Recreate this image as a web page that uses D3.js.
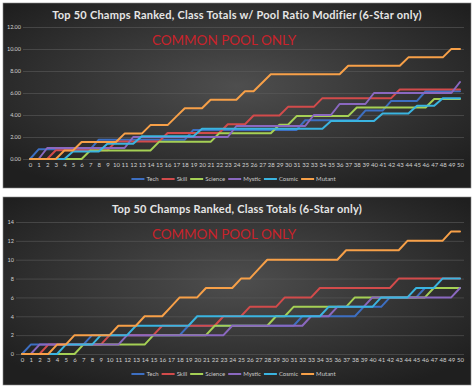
<!DOCTYPE html>
<html>
<head>
<meta charset="utf-8">
<script src="https://cdn.jsdelivr.net/npm/d3@7"></script>
<style>
body { margin: 0; background: #fff; }
svg { display: block; }
text { font-family: Lato, "Open Sans", sans-serif; }
</style>
</head>
<body>
<svg width="474" height="387"></svg>
<script>
var classNames = ["Tech", "Skill", "Science", "Mystic", "Cosmic", "Mutant"];
var classColors = ["#3d6fc2", "#d24b4b", "#a5d055", "#8a68c0", "#3ab4e0", "#f7a048"];
var ranks = d3.range(0, 51);

// class totals (plain counts) - bottom chart
var tech    = [0,1,1,1,1,1,1,1,2,2,2,2,2,2,2,2,2,2,2,3,3,3,3,3,3,3,3,3,3,3,3,3,4,4,4,4,4,4,4,5,5,5,6,6,6,6,7,7,7,7,7];
var skill   = [0,0,0,1,1,1,1,1,1,1,2,2,2,2,2,2,3,3,3,3,3,3,3,4,4,4,5,5,5,5,6,6,6,6,7,7,7,7,7,7,7,7,7,8,8,8,8,8,8,8,8];
var science = [0,0,0,0,0,0,0,1,1,1,1,1,1,1,1,2,2,2,2,2,2,2,3,3,3,3,3,3,3,4,4,5,5,5,5,5,5,5,6,6,6,6,6,6,6,6,6,7,7,7,7];
var mystic  = [0,0,1,1,1,1,1,1,1,1,1,1,2,2,2,2,2,2,2,2,2,2,2,2,3,3,3,3,3,3,3,3,3,4,4,4,5,5,5,5,6,6,6,6,6,6,6,6,6,6,7];
var cosmic  = [0,0,0,0,0,1,1,1,1,2,2,2,2,3,3,3,3,3,3,3,4,4,4,4,4,4,4,4,4,4,4,4,4,4,4,5,5,5,5,5,5,6,6,6,6,7,7,7,8,8,8];
var mutant  = [0,0,0,0,1,1,2,2,2,2,2,3,3,3,4,4,4,5,6,6,6,7,7,7,7,8,8,9,10,10,10,10,10,10,10,10,10,11,11,11,11,11,11,11,12,12,12,12,12,13,13];

// class totals w/ pool ratio modifier - top chart
var techMod    = [0,0.88,0.88,0.88,0.88,0.88,0.88,0.88,1.76,1.76,1.76,1.76,1.76,1.76,1.76,1.76,1.76,1.76,1.76,2.64,2.64,2.64,2.64,2.64,2.64,2.64,2.64,2.64,2.64,2.64,2.64,2.64,3.52,3.52,3.52,3.52,3.52,3.52,3.52,4.40,4.40,4.40,5.28,5.28,5.28,5.28,6.16,6.16,6.16,6.16,6.16];
var skillMod   = [0,0,0,0.79,0.79,0.79,0.79,0.79,0.79,0.79,1.58,1.58,1.58,1.58,1.58,1.58,2.37,2.37,2.37,2.37,2.37,2.37,2.37,3.16,3.16,3.16,3.95,3.95,3.95,3.95,4.74,4.74,4.74,4.74,5.53,5.53,5.53,5.53,5.53,5.53,5.53,5.53,5.53,6.32,6.32,6.32,6.32,6.32,6.32,6.32,6.32];
var scienceMod = [0,0,0,0,0,0,0,0.78,0.78,0.78,0.78,0.78,0.78,0.78,0.78,1.56,1.56,1.56,1.56,1.56,1.56,1.56,2.34,2.34,2.34,2.34,2.34,2.34,2.34,3.12,3.12,3.90,3.90,3.90,3.90,3.90,3.90,3.90,4.68,4.68,4.68,4.68,4.68,4.68,4.68,4.68,4.68,5.46,5.46,5.46,5.46];
var mysticMod  = [0,0,1.00,1.00,1.00,1.00,1.00,1.00,1.00,1.00,1.00,1.00,2.00,2.00,2.00,2.00,2.00,2.00,2.00,2.00,2.00,2.00,2.00,2.00,3.00,3.00,3.00,3.00,3.00,3.00,3.00,3.00,3.00,4.00,4.00,4.00,5.00,5.00,5.00,5.00,6.00,6.00,6.00,6.00,6.00,6.00,6.00,6.00,6.00,6.00,7.00];
var cosmicMod  = [0,0,0,0,0,0.69,0.69,0.69,0.69,1.38,1.38,1.38,1.38,2.07,2.07,2.07,2.07,2.07,2.07,2.07,2.76,2.76,2.76,2.76,2.76,2.76,2.76,2.76,2.76,2.76,2.76,2.76,2.76,2.76,2.76,3.45,3.45,3.45,3.45,3.45,3.45,4.14,4.14,4.14,4.14,4.83,4.83,4.83,5.52,5.52,5.52];
var mutantMod  = [0,0,0,0,0.77,0.77,1.54,1.54,1.54,1.54,1.54,2.31,2.31,2.31,3.08,3.08,3.08,3.85,4.62,4.62,4.62,5.39,5.39,5.39,5.39,6.16,6.16,6.93,7.70,7.70,7.70,7.70,7.70,7.70,7.70,7.70,7.70,8.47,8.47,8.47,8.47,8.47,8.47,8.47,9.24,9.24,9.24,9.24,9.24,10.01,10.01];

var topTicks = [0, 2, 4, 6, 8, 10, 12];
var bottomTicks = [0, 2, 4, 6, 8, 10, 12, 14];

var svg = d3.select("svg");

var defs = svg.append("defs");
var grad = defs.append("radialGradient").attr("id", "bg")
    .attr("cx", "50%").attr("cy", "45%").attr("r", "65%");
grad.append("stop").attr("offset", "0%").attr("stop-color", "#4e4e4e");
grad.append("stop").attr("offset", "100%").attr("stop-color", "#1f1f1f");

function drawChart(cfg) {
  var g = svg.append("g");

  g.append("rect")
      .attr("x", 3).attr("y", cfg.top)
      .attr("width", 468).attr("height", cfg.bottom - cfg.top)
      .attr("fill", "url(#bg)")
      .attr("stroke", "#8a8a8a").attr("stroke-width", 0.6);

  var x = d3.scaleLinear().domain([0, 50]).range([cfg.xLeft, cfg.xRight]);
  var y = d3.scaleLinear().domain([0, d3.max(cfg.ticks)]).range([cfg.yBase, cfg.yTop]);

  // gridlines and y labels
  var yAxis = d3.axisLeft(y)
      .tickValues(cfg.ticks)
      .tickSize(-(cfg.gridRight - cfg.gridLeft))
      .tickPadding(2)
      .tickFormat(cfg.fmt);
  var ya = g.append("g")
      .attr("transform", "translate(" + cfg.gridLeft + ",0)")
      .call(yAxis);
  ya.select(".domain").remove();
  ya.selectAll("line").attr("stroke", "#5a5a5a").attr("stroke-width", 0.6);
  ya.selectAll("text").attr("fill", "#d0d0d0").style("font-size", "5.5px");

  // x labels
  var xAxis = d3.axisBottom(x).tickValues(ranks).tickSize(0).tickPadding(0);
  var xa = g.append("g")
      .attr("transform", "translate(0," + cfg.xLabelY + ")")
      .call(xAxis);
  xa.select(".domain").remove();
  xa.selectAll("text").attr("fill", "#d0d0d0").style("font-size", "6px");

  // series lines
  var line = d3.line()
      .x(function(d, i) { return x(ranks[i]); })
      .y(function(d) { return y(d); });

  g.selectAll(".series")
    .data(cfg.series)
    .enter().append("path")
      .attr("class", "series")
      .attr("d", function(d) { return line(d); })
      .attr("fill", "none")
      .attr("stroke", function(d, i) { return classColors[i]; })
      .attr("stroke-width", 2)
      .attr("stroke-linejoin", "round")
      .attr("stroke-linecap", "round");

  // title
  g.append("text")
      .attr("x", 237).attr("y", cfg.top + 16)
      .attr("text-anchor", "middle")
      .attr("fill", "#e6e6e6")
      .style("font-size", "11px").style("font-weight", "bold")
      .style("letter-spacing", "0.25px")
      .text(cfg.title);

  g.append("text")
      .attr("x", 224).attr("y", cfg.top + 42)
      .attr("text-anchor", "middle")
      .attr("fill", "#c8232b")
      .style("font-size", "13.5px")
      .text("COMMON POOL ONLY");

  // legend
  var leg = g.append("g");
  var cx = 0;
  classNames.forEach(function(name, i) {
    leg.append("line")
        .attr("x1", cx).attr("x2", cx + 13)
        .attr("y1", 0).attr("y2", 0)
        .attr("stroke", classColors[i]).attr("stroke-width", 2);
    var t = leg.append("text")
        .attr("x", cx + 15).attr("y", 2)
        .attr("fill", "#c8c8c8")
        .style("font-size", "6px")
        .text(name);
    cx += 15 + t.node().getComputedTextLength() + 3;
  });
  leg.attr("transform", "translate(" + (235 - cx / 2) + "," + cfg.legendY + ")");
}

drawChart({
  top: 3, bottom: 188,
  title: "Top 50 Champs Ranked, Class Totals w/ Pool Ratio Modifier (6-Star only)",
  series: [techMod, skillMod, scienceMod, mysticMod, cosmicMod, mutantMod],
  ticks: topTicks, fmt: d3.format(".2f"),
  xLeft: 30, xRight: 460, yBase: 159, yTop: 27,
  gridLeft: 23, gridRight: 464,
  xLabelY: 163, legendY: 179
});

drawChart({
  top: 197, bottom: 385,
  title: "Top 50 Champs Ranked, Class Totals (6-Star only)",
  series: [tech, skill, science, mystic, cosmic, mutant],
  ticks: bottomTicks, fmt: d3.format("d"),
  xLeft: 22, xRight: 460, yBase: 354, yTop: 222,
  gridLeft: 16, gridRight: 464,
  xLabelY: 358, legendY: 374
});
</script>
</body>
</html>
